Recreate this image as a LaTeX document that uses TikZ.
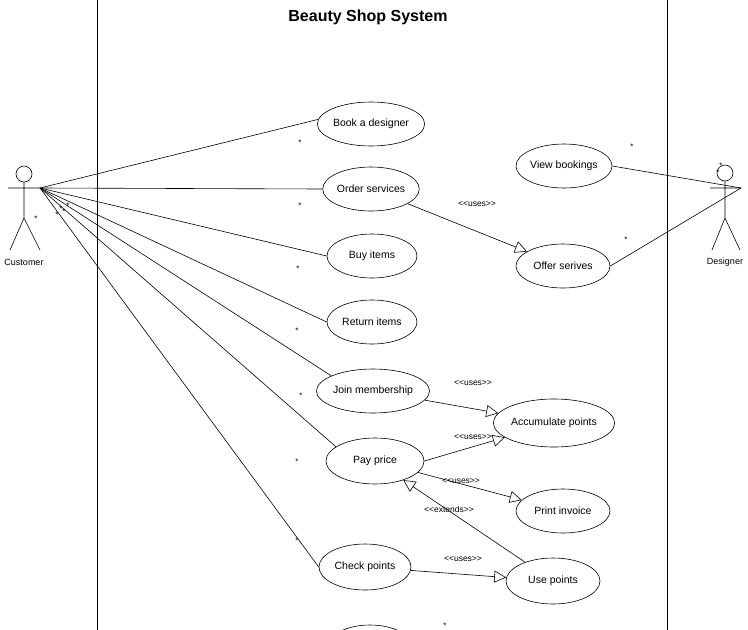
\documentclass[tikz,border=0pt]{standalone}
\usepackage{fontspec}
\setmainfont{Liberation Sans}
\usetikzlibrary{shapes.geometric,arrows.meta}
\begin{document}
\begin{tikzpicture}[x=1pt,y=-1pt,
 uc/.style={ellipse,draw,inner sep=0pt,font=\fontsize{10.5}{12}\selectfont},
 lbl/.style={font=\fontsize{8.5}{10}\selectfont,inner sep=1pt},
 st/.style={font=\fontsize{8}{8}\selectfont,inner sep=0pt},
 uses/.style={-{Triangle[open,length=12pt,width=12pt]}},
 line width=0.6pt]
\useasboundingbox (0,0) rectangle (748,630);
\begin{scope}
\clip (0,0) rectangle (748,630);
\draw (97,-5) -- (97,640) (667,-5) -- (667,640);
\node[font=\bfseries\fontsize{16}{18}\selectfont] (title) at (368,17) {Beauty Shop System};
% customer
\draw (24,174) circle (8) (24,182) -- (24,218) (8,188) -- (40,188) (10,250) -- (24,218) -- (40,250);
\coordinate (cust) at (40,188);
\node[font=\fontsize{9}{10}\selectfont] (custl) at (24,262) {Customer};
% designer
\draw (725,173) circle (8) (725,181) -- (725,218) (710,188) -- (741,188) (712,250) -- (725,218) -- (740,250);
\coordinate (des) at (741,188);
\node[font=\fontsize{9}{10}\selectfont] (desl) at (725,262) {Designer};
% use cases
\node[uc,minimum width=100,minimum height=44] (book) at (371,124) {Book a designer};
\node[uc,minimum width=92,minimum height=44] (order) at (371,189) {Order services};
\node[uc,minimum width=90,minimum height=44] (buy) at (372,256) {Buy items};
\node[uc,minimum width=90,minimum height=44] (ret) at (372,322) {Return items};
\node[uc,minimum width=96,minimum height=44] (join) at (373,391) {Join membership};
\node[uc,minimum width=98,minimum height=46] (pay) at (375,461) {Pay price};
\node[uc,minimum width=92,minimum height=46] (check) at (365,567) {Check points};
\node[uc,minimum width=90,minimum height=50] (last) at (370,650) {};
\node[uc,minimum width=96,minimum height=44] (view) at (564,166) {View bookings};
\node[uc,minimum width=94,minimum height=44] (offer) at (563,266) {Offer serives};
\node[uc,minimum width=102,minimum height=48] (acc) at (554,423) {Accumulate points};
\node[uc,minimum width=94,minimum height=44] (print) at (563,511) {Print invoice};
\node[uc,minimum width=94,minimum height=46] (use) at (553,581) {Use points};
% customer associations
\foreach \t/\a in {book/175,order/180,buy/180,ret/180,join/160,pay/160,check/180} \draw (cust) -- (\t.\a);
\draw (view.east) -- (des); \draw (offer.east) -- (des);
% relations
\def\lt{<\kern0pt<}\def\gt{>\kern0pt>}
\def\uses{\lt uses\gt}
\draw[uses] (order) -- (offer);
\node[lbl] (u1) at (477,204) {\uses};
\draw[uses] (join) -- (acc);
\node[lbl] (u2) at (473,383) {\uses};
\draw[uses] (pay.east) -- (acc);
\node[lbl] (u3) at (473,437) {\uses};
\draw[uses] (pay) -- (print);
\node[lbl] (u4) at (461,481) {\uses};
\draw[uses] (use) -- (pay);
\node[lbl] (u5) at (449,509) {\lt extends\gt};
\draw[uses] (check) -- (use);
\node[lbl] (u6) at (463,559) {\uses};
% multiplicities
\foreach \p in {(300,143),(300,206),(298,269),(297,331),(301,396),(297,462),(297,541),(36,219),(57,215),(64,212),(68,206),(61,209),(632,147),(626,240),(721,166),(718,173),(445,626)}
  \node[st] at \p {*};
\end{scope}
\end{tikzpicture}
\end{document}
